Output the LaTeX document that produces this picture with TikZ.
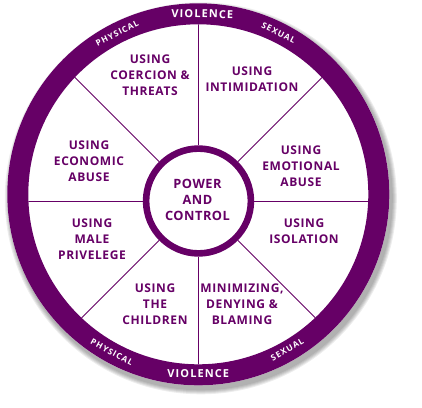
\documentclass[tikz,border=0pt]{standalone}
\usepackage{fontspec}
\setsansfont{Open Sans}
\usetikzlibrary{calc}
\definecolor{pur}{HTML}{660066}
\begin{document}
\begin{tikzpicture}[x=1pt,y=1pt,
  lab/.style={text=pur, align=center, inner sep=0pt,
    font=\sffamily\bfseries\addfontfeature{LetterSpace=5}\fontsize{12}{16}\selectfont},
  hublab/.style={lab,
    font=\sffamily\bfseries\addfontfeature{LetterSpace=4}\fontsize{12.8}{16}\selectfont},
  ringbig/.style={text=white, inner sep=0pt,
    font=\sffamily\bfseries\addfontfeature{LetterSpace=10}\fontsize{11}{11}\selectfont},
  ringsmall/.style={text=white, inner sep=0pt,
    font=\sffamily\bfseries\addfontfeature{LetterSpace=12}\fontsize{8.3}{8.3}\selectfont},
  spoke/.style={pur, line width=0.9pt}]
\useasboundingbox (0,0) rectangle (422,407);
\coordinate (C) at (198.3,212.7);
\coordinate (H) at (198.5,206);
% soft shadow
\foreach \r in {196,195,194,193,192} {
  \fill[black, opacity=0.07] ($(C)+(2.5,-4)$) circle (\r);
}
\fill[white] (C) circle (191);
% hub
\node[circle, draw=pur, line width=6.6pt, fill=white, inner sep=0pt,
      minimum size=104.8pt] (hub) at (H) {};
% spokes
\begin{scope}
  \clip (C) circle (170);
  \foreach \a in {0,45,...,315} {
    \draw[spoke] (hub.\a) -- ($(H)+(\a:220)$);
  }
\end{scope}
% outer ring
\draw[pur, line width=21pt] (C) circle (180.5);
% hub text
\node[hublab] (pc) at (197.5,207) {POWER\\AND\\CONTROL};
% sector labels
\node[lab] (coer) at (150,332) {USING\\COERCION \&\\THREATS};
\node[lab] (intim) at (252,328) {USING\\INTIMIDATION};
\node[lab] (emot) at (301,241) {USING\\EMOTIONAL\\ABUSE};
\node[lab] (isol) at (304,176) {USING\\ISOLATION};
\node[lab] (mini) at (242,103) {MINIMIZING,\\DENYING \&\\BLAMING};
\node[lab] (chil) at (155,103) {USING\\THE\\CHILDREN};
\node[lab] (male) at (92,168) {USING\\MALE\\PRIVELEGE};
\node[lab] (econ) at (89,246) {USING\\ECONOMIC\\ABUSE};
% ring labels
\node[ringbig, rotate=-1.3] (vt) at ($(C)+(88.7:180.5)$) {VIOLENCE};
\node[ringbig] (vb) at ($(C)+(-90:179.5)$) {VIOLENCE};
\node[ringsmall, rotate=26.7] (pt) at ($(C)+(116.7:180.5)$) {PHYSICAL};
\node[ringsmall, rotate=-26.4] (st) at ($(C)+(63.6:180.5)$) {SEXUAL};
\node[ringsmall, rotate=-28.7] (pb) at ($(C)+(-118.7:180)$) {PHYSICAL};
\node[ringsmall, rotate=29.8] (sb) at ($(C)+(-60.2:179)$) {SEXUAL};
\end{tikzpicture}
\end{document}
